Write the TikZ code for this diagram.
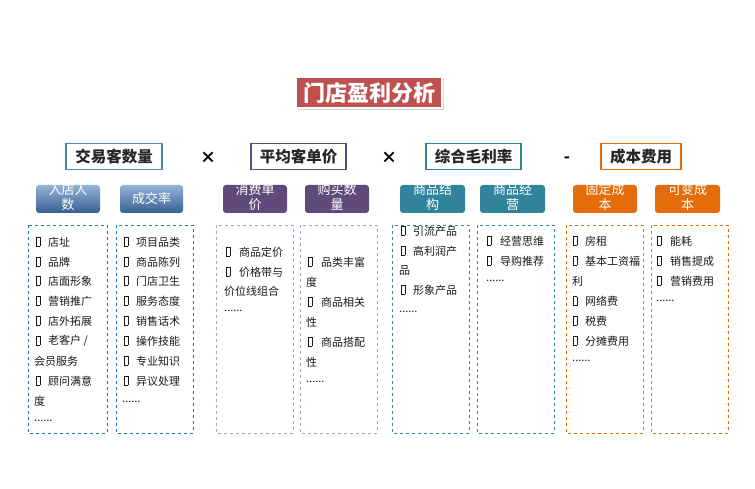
\documentclass[tikz,border=0pt]{standalone}
\usepackage{fontspec}
\setmainfont{Noto Sans CJK SC}
\usetikzlibrary{shadows}
\definecolor{tred}{HTML}{C0504D}
\definecolor{cblue}{HTML}{4F81BD}
\definecolor{dblue}{HTML}{1F6FB5}
\definecolor{cpurp}{HTML}{604A7B}
\definecolor{lpurp}{HTML}{B3A2C7}
\definecolor{cteal}{HTML}{31849B}
\definecolor{corg}{HTML}{E46C0A}
\definecolor{btop}{HTML}{95B3D7}
\definecolor{bbot}{HTML}{366092}
\newcommand\bx{{\setlength\fboxsep{0pt}\setlength\fboxrule{0.5pt}\fbox{\rule{0pt}{8.5pt}\hspace{3pt}}}}
\tikzset{
  x=1pt, y=-1pt,
  hdr/.style={draw=#1, line width=1.6pt, fill=white, font=\fontsize{15.5}{18}\selectfont\bfseries, inner sep=0pt, minimum height=26pt, text=black!85},
  opr/.style={font=\fontsize{16}{18}\selectfont\bfseries, inner sep=0pt},
  sub/.style={rounded corners=3pt, inner sep=0pt, text=white, align=center, font=\fontsize{13}{15.5}\selectfont},
  col/.style={draw=#1, dashed, line width=0.7pt, inner sep=0pt},
  it/.style={anchor=west, inner sep=0pt, font=\fontsize{11}{12}\selectfont, text=black!90},
}
\begin{document}
\begin{tikzpicture}
\useasboundingbox (0,0) rectangle (755,489);
% title
\node[fill=tred, draw=white, line width=2pt, drop shadow={shadow xshift=1.5pt, shadow yshift=-1.5pt, fill=black!35}, minimum width=146pt, minimum height=31pt, inner sep=0pt, text=white, font=\fontsize{22}{24}\selectfont\bfseries] (title) at (369,93) {门店盈利分析};
% headers
\node[hdr=cblue, minimum width=96pt] (h1) at (114,156.5) {交易客数量};
\node[opr] (o1) at (208,158) {×};
\node[hdr=cpurp, minimum width=95pt] (h2) at (298.5,156.5) {平均客单价};
\node[opr] (o2) at (389,158) {×};
\node[hdr=cteal, minimum width=95pt] (h3) at (473.5,156.5) {综合毛利率};
\node[opr] (o3) at (567,160) {-};
\node[hdr=corg, minimum width=80pt] (h4) at (641,156.5) {成本费用};
% sub boxes
\shade[rounded corners=3pt, top color=btop, bottom color=bbot] (36,185) rectangle (100,213);
\node[sub] (s1) at (68,197) {入店人\\数};
\shade[rounded corners=3pt, top color=btop, bottom color=bbot] (120,185) rectangle (183,213);
\node[sub] (s2) at (151.5,199) {成交率};
\fill[cpurp, rounded corners=3pt] (223,185) rectangle (287,213);
\node[sub] (s3) at (255,197) {消费单\\价};
\fill[cpurp, rounded corners=3pt] (305,185) rectangle (369,213);
\node[sub] (s4) at (337,197) {购买数\\量};
\fill[cteal, rounded corners=3pt] (400,185) rectangle (465,213);
\node[sub] (s5) at (432.5,197) {商品结\\构};
\fill[cteal, rounded corners=3pt] (480,185) rectangle (545,213);
\node[sub] (s6) at (512.5,197) {商品经\\营};
\fill[corg, rounded corners=3pt] (573,185) rectangle (637,213);
\node[sub] (s7) at (605,197) {固定成\\本};
\fill[corg, rounded corners=3pt] (655,185) rectangle (720,213);
\node[sub] (s8) at (687.5,197) {可变成\\本};
% dashed columns
\draw[col=dblue] (28,225) rectangle (107,433);
\draw[col=dblue] (116,225) rectangle (193,433);
\draw[col=lpurp] (216,225) rectangle (293,433);
\draw[col=lpurp] (300,225) rectangle (377,433);
\draw[col=cteal] (392,225) rectangle (469,433);
\draw[col=cteal] (477,225) rectangle (554,433);
\draw[col=corg] (566,225) rectangle (643,433);
\draw[col=corg] (651,225) rectangle (728,433);
% column 1
\node[it] (a1) at (36,242) {\bx\hspace{8pt}店址};
\node[it] (a2) at (36,262) {\bx\hspace{8pt}品牌};
\node[it] (a3) at (36,281) {\bx\hspace{8pt}店面形象};
\node[it] (a4) at (36,301) {\bx\hspace{8pt}营销推广};
\node[it] (a5) at (36,321) {\bx\hspace{8pt}店外拓展};
\node[it] (a6) at (36,341) {\bx\hspace{8pt}老客户 /};
\node[it] (a7) at (34,361) {会员服务};
\node[it] (a8) at (36,381) {\bx\hspace{8pt}顾问满意};
\node[it] (a9) at (34,401) {度};
\node[it] (a10) at (34,421) {......};
% column 2
\node[it] (b1) at (124,242) {\bx\hspace{8pt}项目品类};
\node[it] (b2) at (124,262) {\bx\hspace{8pt}商品陈列};
\node[it] (b3) at (124,281) {\bx\hspace{8pt}门店卫生};
\node[it] (b4) at (124,301) {\bx\hspace{8pt}服务态度};
\node[it] (b5) at (124,321) {\bx\hspace{8pt}销售话术};
\node[it] (b6) at (124,341) {\bx\hspace{8pt}操作技能};
\node[it] (b7) at (124,361) {\bx\hspace{8pt}专业知识};
\node[it] (b8) at (124,381) {\bx\hspace{8pt}异议处理};
\node[it] (b9) at (122,402) {......};
% column 3
\node[it] (c1) at (226,252) {\bx\hspace{9pt}商品定价};
\node[it] (c2) at (226,272) {\bx\hspace{9pt}价格带与};
\node[it] (c3) at (224,291) {价位线组合};
\node[it] (c4) at (224,311) {......};
% column 4
\node[it] (d1) at (308,262) {\bx\hspace{9pt}品类丰富};
\node[it] (d2) at (306,282) {度};
\node[it] (d3) at (308,302) {\bx\hspace{9pt}商品相关};
\node[it] (d4) at (306,322) {性};
\node[it] (d5) at (308,342) {\bx\hspace{9pt}商品搭配};
\node[it] (d6) at (306,362) {性};
\node[it] (d7) at (306,382) {......};
% column 5
\node[it] (e1) at (401,231) {\bx\hspace{8pt}引流产品};
\node[it] (e2) at (401,251) {\bx\hspace{8pt}高利润产};
\node[it] (e3) at (399,271) {品};
\node[it] (e4) at (401,290) {\bx\hspace{8pt}形象产品};
\node[it] (e5) at (399,312) {......};
% column 6
\node[it] (f1) at (487,241) {\bx\hspace{9pt}经营思维};
\node[it] (f2) at (487,261) {\bx\hspace{9pt}导购推荐};
\node[it] (f3) at (486,281) {......};
% column 7
\node[it] (g1) at (573,241) {\bx\hspace{8pt}房租};
\node[it] (g2) at (573,261) {\bx\hspace{8pt}基本工资福};
\node[it] (g3) at (572,281) {利};
\node[it] (g4) at (573,301) {\bx\hspace{8pt}网络费};
\node[it] (g5) at (573,321) {\bx\hspace{8pt}税费};
\node[it] (g6) at (573,341) {\bx\hspace{8pt}分摊费用};
\node[it] (g7) at (572,361) {......};
% column 8
\node[it] (k1) at (657,241) {\bx\hspace{9pt}能耗};
\node[it] (k2) at (657,261) {\bx\hspace{9pt}销售提成};
\node[it] (k3) at (657,281) {\bx\hspace{9pt}营销费用};
\node[it] (k4) at (656,301) {......};
\end{tikzpicture}
\end{document}
